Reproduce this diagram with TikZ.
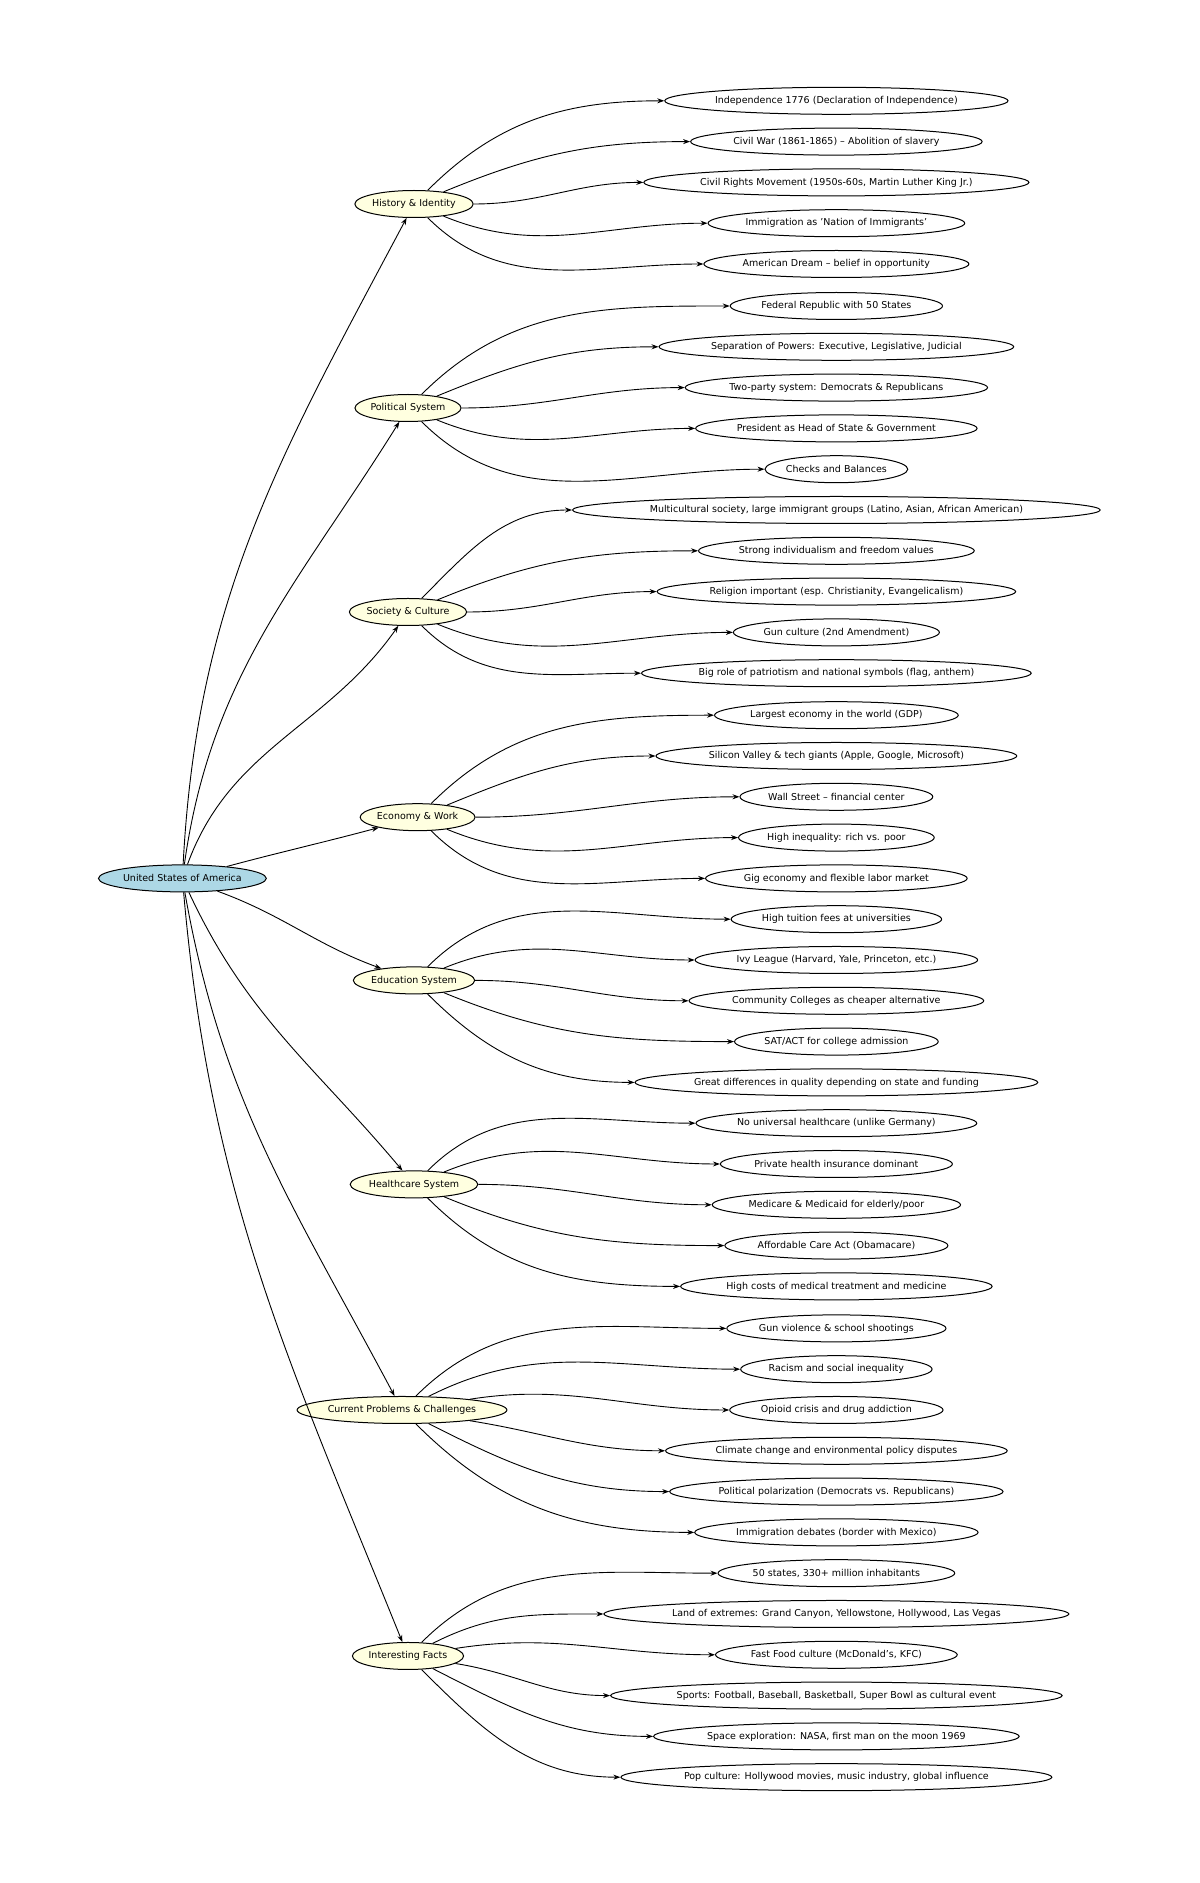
\documentclass[tikz,border=0pt]{standalone}
\usepackage{fontspec}
\setmainfont{DejaVu Sans}
\usetikzlibrary{shapes.geometric,arrows.meta}
\definecolor{rootc}{HTML}{ADD8E6}
\definecolor{catc}{HTML}{FFFFE0}
\tikzset{
 base/.style={ellipse,draw,line width=1pt,font=\fontsize{9.5}{10}\selectfont,inner xsep=0pt,inner ysep=1pt,minimum height=27pt},
 leafnode/.style={base},
 catnode/.style={base,fill=catc},
 rootnode/.style={base,fill=rootc},
 conn/.style={-{Stealth[length=7pt,width=5pt]},line width=0.9pt},
}
\newcommand{\leaves}[3]{% name, y0, list
 \foreach \t [count=\i] in {#3}{
   \node[leafnode] (#1-\i) at (697,{#2+34*(\i-1)}) {\t};
   \xdef\nleaf{\i}
 }
 \foreach \i in {1,...,\nleaf}{
   \pgfmathsetmacro{\ang}{45-90*(\i-1)/(\nleaf-1)}
   \draw[conn] (#1) to[out=\ang,in=180] (#1-\i);
 }
}
\begin{document}
\begin{tikzpicture}[x=1.2pt,y=-1.2pt]
\useasboundingbox (0,0) rectangle (1000,1569.2);
\node[rootnode] (root) at (152,732) {United States of America};
\node[catnode] (c1) at (345,170) {History \& Identity};
\node[catnode] (c2) at (340,340) {Political System};
\node[catnode] (c3) at (340,510) {Society \& Culture};
\node[catnode] (c4) at (348,681) {Economy \& Work};
\node[catnode] (c5) at (345,817) {Education System};
\node[catnode] (c6) at (345,987) {Healthcare System};
\node[catnode] (c7) at (335,1175) {Current Problems \& Challenges};
\node[catnode] (c8) at (340,1380) {Interesting Facts};

\draw[conn] (root) to[out=87,in=-118] (c1);
\draw[conn] (root) to[out=82,in=-122] (c2);
\draw[conn] (root) to[out=70,in=-125] (c3);
\draw[conn] (root) to[out=15,in=195] (c4);
\draw[conn] (root) to[out=-20,in=160] (c5);
\draw[conn] (root) to[out=-65,in=130] (c6);
\draw[conn] (root) to[out=-80,in=118] (c7);
\draw[conn] (root) to[out=-85,in=112] (c8);

\leaves{c1}{84}{Independence 1776 (Declaration of Independence),Civil War (1861-1865) – Abolition of slavery,{Civil Rights Movement (1950s-60s, Martin Luther King Jr.)},Immigration as 'Nation of Immigrants',American Dream – belief in opportunity}
\leaves{c2}{255}{Federal Republic with 50 States,{Separation of Powers: Executive, Legislative, Judicial},Two-party system: Democrats \& Republicans,President as Head of State \& Government,Checks and Balances}
\leaves{c3}{425}{{Multicultural society, large immigrant groups (Latino, Asian, African American)},Strong individualism and freedom values,{Religion important (esp. Christianity, Evangelicalism)},Gun culture (2nd Amendment),{Big role of patriotism and national symbols (flag, anthem)}}
\leaves{c4}{596}{Largest economy in the world (GDP),{Silicon Valley \& tech giants (Apple, Google, Microsoft)},Wall Street – financial center,High inequality: rich vs. poor,Gig economy and flexible labor market}
\leaves{c5}{766}{High tuition fees at universities,{Ivy League (Harvard, Yale, Princeton, etc.)},Community Colleges as cheaper alternative,SAT/ACT for college admission,Great differences in quality depending on state and funding}
\leaves{c6}{936}{No universal healthcare (unlike Germany),Private health insurance dominant,Medicare \& Medicaid for elderly/poor,Affordable Care Act (Obamacare),High costs of medical treatment and medicine}
\leaves{c7}{1107}{Gun violence \& school shootings,Racism and social inequality,Opioid crisis and drug addiction,Climate change and environmental policy disputes,Political polarization (Democrats vs. Republicans),Immigration debates (border with Mexico)}
\leaves{c8}{1311}{{50 states, 330+ million inhabitants},{Land of extremes: Grand Canyon, Yellowstone, Hollywood, Las Vegas},{Fast Food culture (McDonald's, KFC)},{Sports: Football, Baseball, Basketball, Super Bowl as cultural event},{Space exploration: NASA, first man on the moon 1969},{Pop culture: Hollywood movies, music industry, global influence}}
\end{tikzpicture}
\end{document}
